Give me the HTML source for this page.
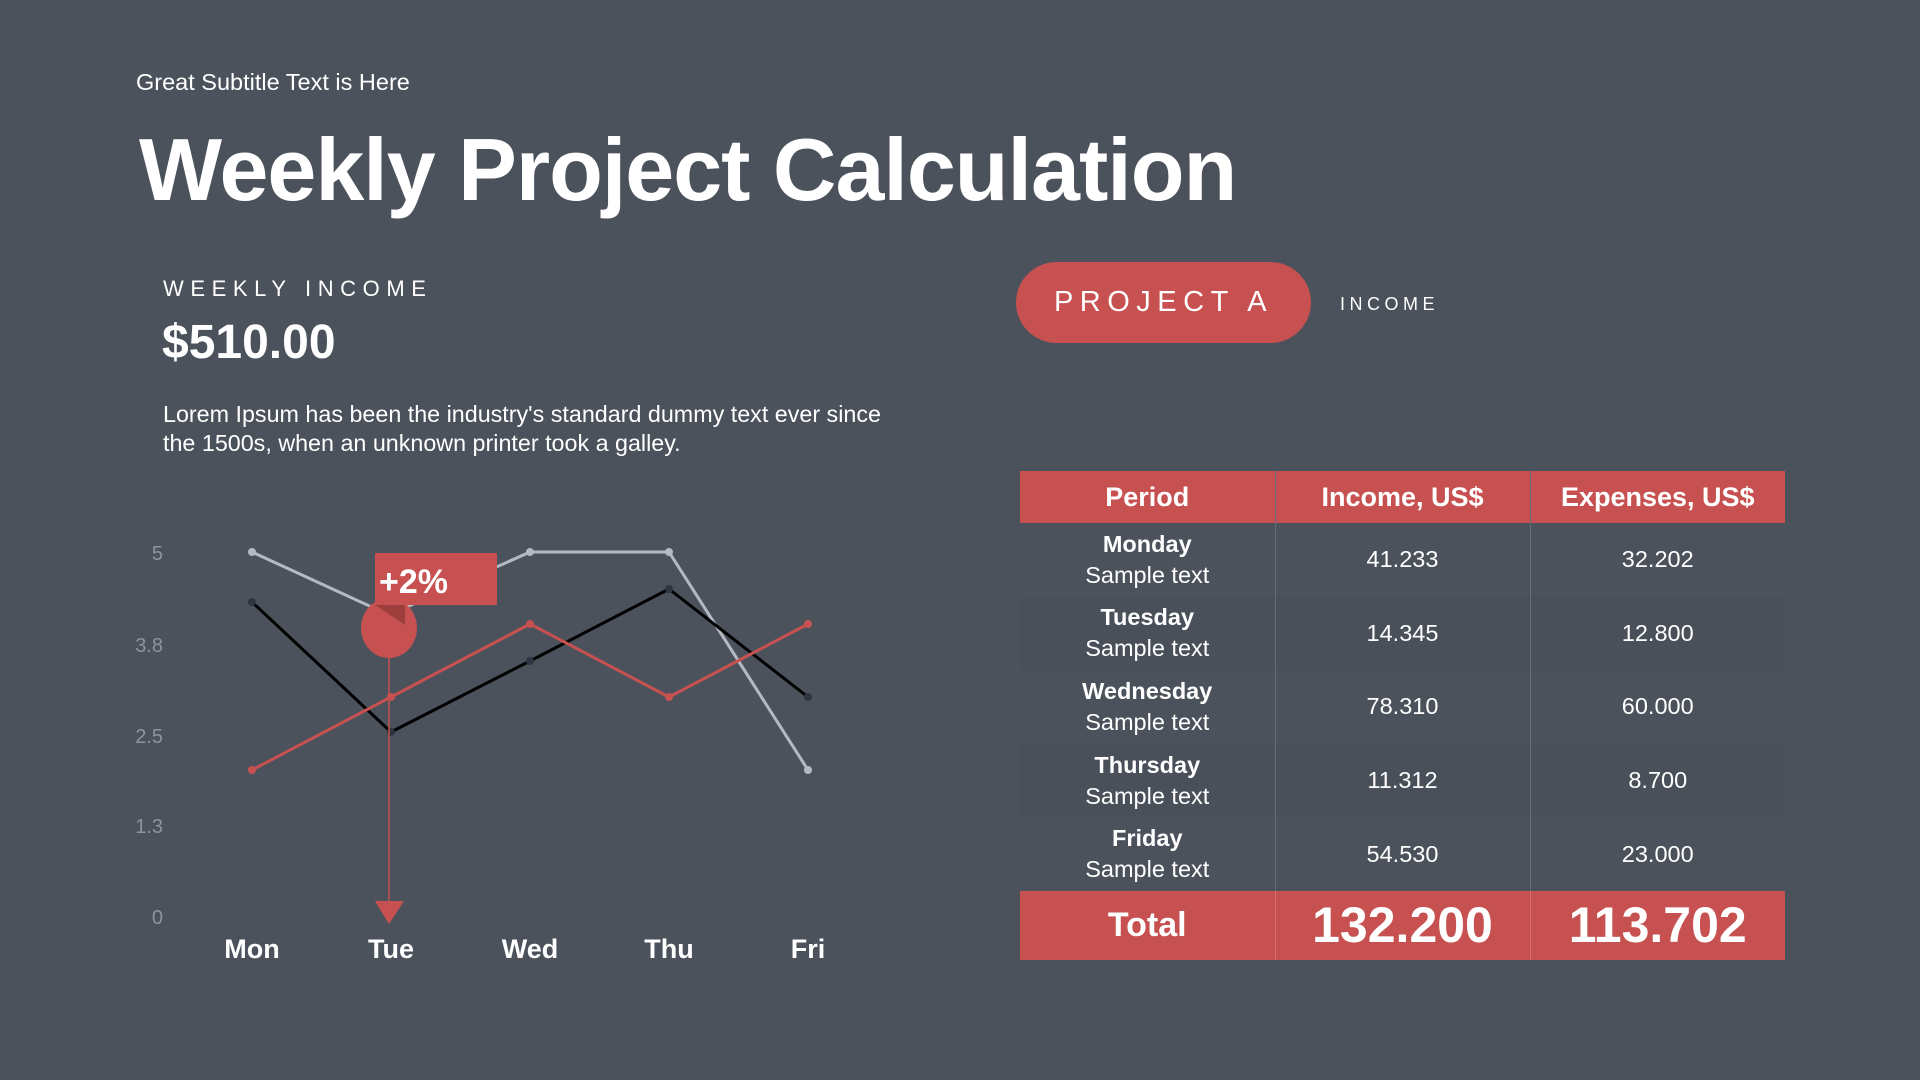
<!DOCTYPE html>
<html><head><meta charset="utf-8"><style>
body{margin:0;width:1920px;height:1080px;background:#4b525c;font-family:"Liberation Sans",sans-serif;color:#fff;position:relative;overflow:hidden}
.a{position:absolute;white-space:nowrap}
table{position:absolute;left:1020px;top:471px;width:765px;border-collapse:collapse;table-layout:fixed}
td,th{text-align:center;padding:0;border-left:1px solid #666d77}
td:first-child,th:first-child{border-left:none}
th{background:#c75150;height:52px;font-size:27px;font-weight:bold}
td{height:73.6px;font-size:23.5px;line-height:31px}
tr.r2 td{background:#49505a}
tr.t td{background:#c75150;height:69px;font-size:34px;font-weight:bold;border-left-color:#d6706f}
tr.t td.b{font-size:50px}
</style></head><body>
<div class="a" style="left:136px;top:69px;font-size:23.5px">Great Subtitle Text is Here</div>
<div class="a" style="left:139px;top:119px;font-size:88px;font-weight:bold;letter-spacing:-1px">Weekly Project Calculation</div>
<div class="a" style="left:163px;top:276px;font-size:22px;letter-spacing:6.6px">WEEKLY INCOME</div>
<div class="a" style="left:162px;top:315px;font-size:48px;font-weight:bold">$510.00</div>
<div class="a" style="left:163px;top:400px;font-size:23.3px;line-height:29px">Lorem Ipsum has been the industry's standard dummy text ever since<br>the 1500s, when an unknown printer took a galley.</div>

<svg class="a" style="left:0;top:0" width="1000" height="1080">
<g font-family="Liberation Sans" font-size="20" fill="#8e949c" text-anchor="end">
<text x="163" y="560">5</text><text x="163" y="652">3.8</text><text x="163" y="743">2.5</text><text x="163" y="833">1.3</text><text x="163" y="924">0</text></g>
<g font-family="Liberation Sans" font-size="27" font-weight="bold" fill="#fff" text-anchor="middle">
<text x="252" y="958">Mon</text><text x="391" y="958">Tue</text><text x="530" y="958">Wed</text><text x="669" y="958">Thu</text><text x="808" y="958">Fri</text></g>
<polyline points="252,552 389,615 530,552 669,552 808,770" fill="none" stroke="#b5bac1" stroke-width="3"/>
<polyline points="252,602 391,732 530,661 669,589 808,697" fill="none" stroke="#000" stroke-width="3"/>
<polyline points="252,770 391,697 530,624 669,697 808,624" fill="none" stroke="#c75150" stroke-width="3"/>
<g fill="#b5bac1"><circle cx="252" cy="552" r="4"/><circle cx="530" cy="552" r="4"/><circle cx="669" cy="552" r="4"/><circle cx="808" cy="770" r="4"/></g>
<g fill="#2f3540"><circle cx="252" cy="602" r="4"/><circle cx="391" cy="732" r="4"/><circle cx="530" cy="661" r="4"/><circle cx="669" cy="589" r="4"/><circle cx="808" cy="697" r="4"/></g>
<g fill="#c75150"><circle cx="252" cy="770" r="4"/><circle cx="391" cy="697" r="4"/><circle cx="530" cy="624" r="4"/><circle cx="669" cy="697" r="4"/><circle cx="808" cy="624" r="4"/></g>
<line x1="389" y1="640" x2="389" y2="905" stroke="#c75150" stroke-width="1.5"/>
<polygon points="375,901 404,901 389,924" fill="#c75150"/>
<ellipse cx="389" cy="628" rx="28" ry="30" fill="#c75150"/>
<rect x="375" y="553" width="122" height="52" fill="#c75150"/>
<polygon points="375,605 405,605 405,625" fill="#9e3f3e"/>
<text x="379" y="593" font-family="Liberation Sans" font-size="34" font-weight="bold" fill="#fff">+2%</text>
</svg>

<div class="a" style="left:1016px;top:262px;width:295px;height:81px;border-radius:41px;background:#c75150;font-size:29px;letter-spacing:6.5px;line-height:81px;text-align:center">PROJECT A</div>
<div class="a" style="left:1340px;top:294px;font-size:18px;letter-spacing:4.5px">INCOME</div>

<table>
<tr><th>Period</th><th>Income, US$</th><th>Expenses, US$</th></tr>
<tr><td><b>Monday</b><br>Sample text</td><td>41.233</td><td>32.202</td></tr>
<tr class="r2"><td><b>Tuesday</b><br>Sample text</td><td>14.345</td><td>12.800</td></tr>
<tr><td><b>Wednesday</b><br>Sample text</td><td>78.310</td><td>60.000</td></tr>
<tr class="r2"><td><b>Thursday</b><br>Sample text</td><td>11.312</td><td>8.700</td></tr>
<tr><td><b>Friday</b><br>Sample text</td><td>54.530</td><td>23.000</td></tr>
<tr class="t"><td>Total</td><td class="b">132.200</td><td class="b">113.702</td></tr>
</table>
</body></html>
